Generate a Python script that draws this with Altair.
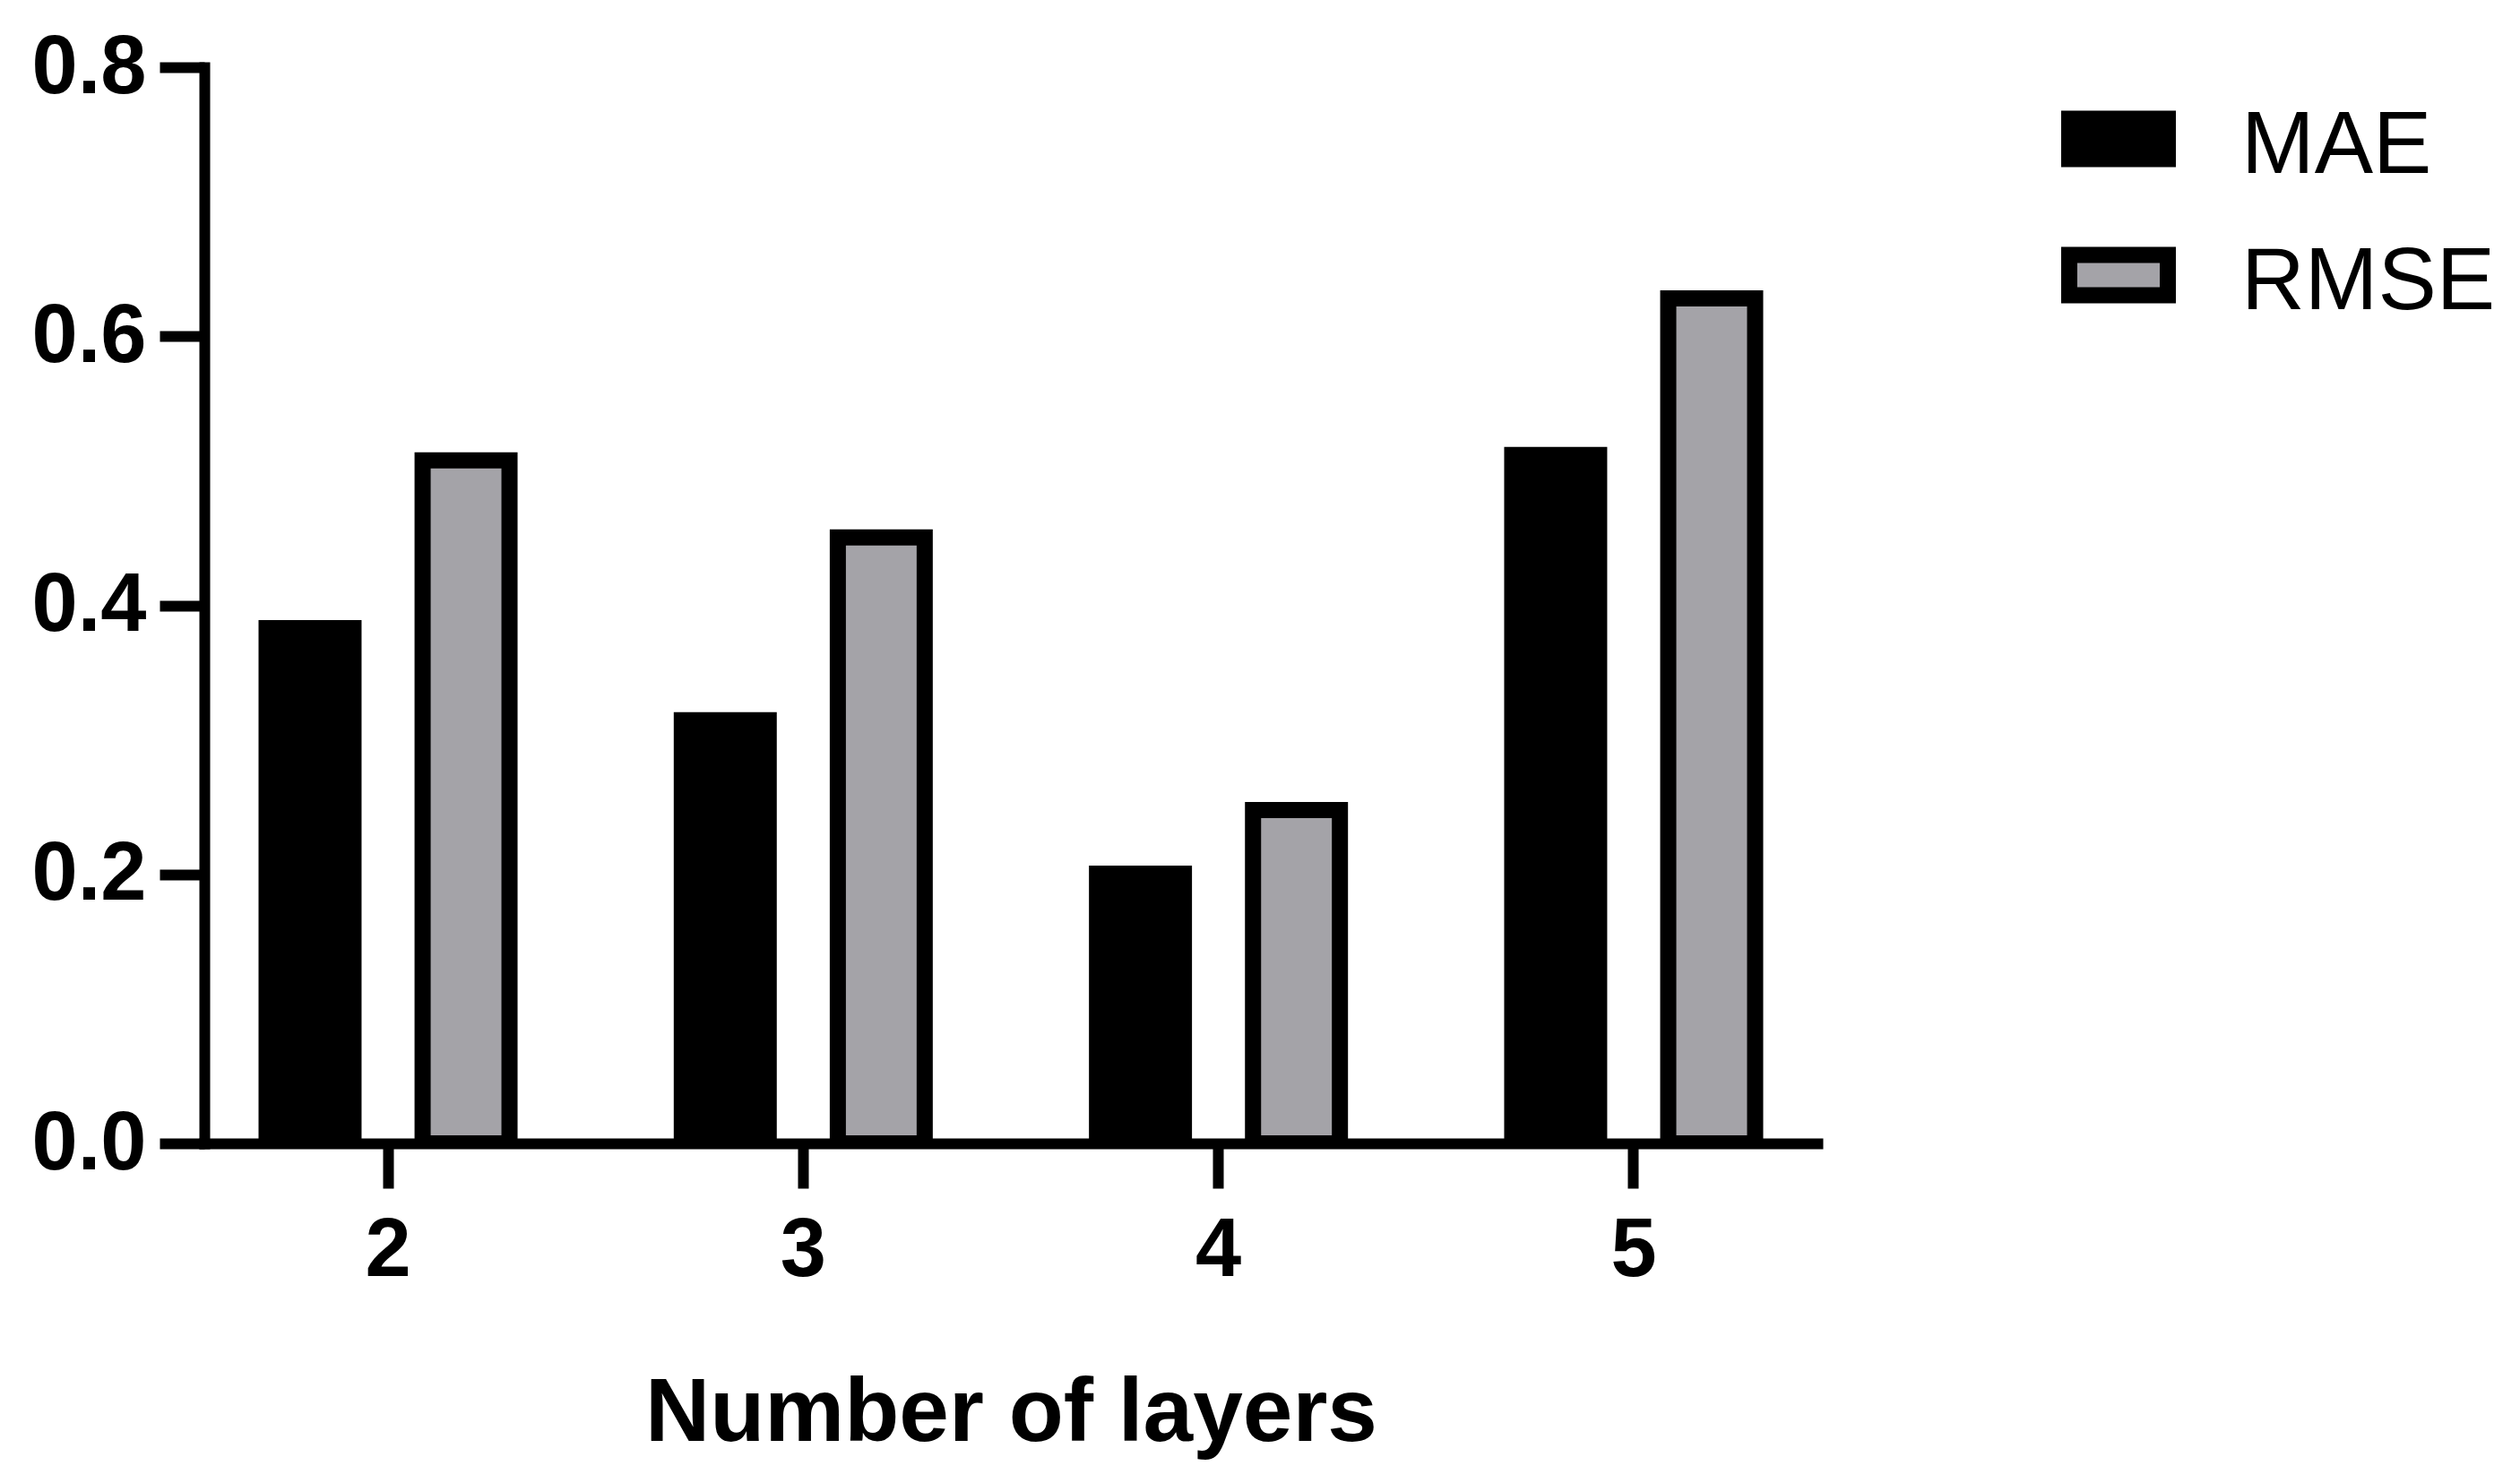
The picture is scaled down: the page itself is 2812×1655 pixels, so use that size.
import altair as alt
import pandas as pd

layers = ["2", "3", "4", "5"]
series = ["MAE", "RMSE"]
mae = [0.383, 0.3145, 0.2005, 0.5117]
rmse = [0.5077, 0.4504, 0.2478, 0.6282]
y_ticks = [0.0, 0.2, 0.4, 0.6, 0.8]
colors = ["#000000", "#a4a3a8"]

rows = []
for i, L in enumerate(layers):
    rows.append({"layers": L, "metric": "MAE", "value": mae[i]})
    rows.append({"layers": L, "metric": "RMSE", "value": rmse[i]})
df = pd.DataFrame(rows)

FONT = "Liberation Sans"

chart = alt.Chart(df).mark_bar(stroke="black", strokeWidth=18, clip=True).encode(
    x=alt.X(
        "layers:N",
        sort=layers,
        title="Number of layers",
        scale=alt.Scale(paddingInner=0.415, paddingOuter=0.15),
        axis=alt.Axis(
            labelAngle=0,
            labelFont=FONT,
            labelFontWeight="bold",
            labelFontSize=92,
            labelColor="black",
            labelPadding=24,
            tickSize=50,
            tickWidth=12,
            tickColor="black",
            domainWidth=12,
            domainColor="black",
            domainCap="square",
            titleFont=FONT,
            titleFontWeight="bold",
            titleFontSize=100,
            titleColor="black",
            titleY=331,
            titleBaseline="alphabetic",
            zindex=1,
        ),
    ),
    xOffset=alt.XOffset(
        "metric:N",
        sort=series,
        scale=alt.Scale(paddingInner=0.443, paddingOuter=0),
    ),
    y=alt.Y(
        "value:Q",
        title=None,
        scale=alt.Scale(domain=[0, 0.8], nice=False, zero=True),
        axis=alt.Axis(
            values=y_ticks,
            format=".1f",
            grid=False,
            labelFont=FONT,
            labelFontWeight="bold",
            labelFontSize=92,
            labelColor="black",
            labelPadding=15,
            tickSize=50,
            tickWidth=12,
            tickColor="black",
            domainWidth=12,
            domainColor="black",
            domainCap="square",
            zindex=1,
        ),
    ),
    color=alt.Color(
        "metric:N",
        scale=alt.Scale(domain=series, range=colors),
        legend=alt.Legend(
            title=None,
            orient="none",
            legendX=2072,
            legendY=25,
            padding=0,
            symbolType="M-1,-0.574H1V0.246H-1Z",
            symbolSize=12100,
            symbolStrokeWidth=18,
            symbolStrokeColor="black",
            symbolOpacity=1,
            labelFont=FONT,
            labelFontSize=98,
            labelColor="black",
            labelOffset=73,
            labelLimit=1000,
            rowPadding=34,
        ),
    ),
).properties(
    width=1800,
    height=1201,
    background="white",
    autosize=alt.AutoSizeParams(type="none"),
    padding={"left": 220, "top": 67, "right": 770, "bottom": 360},
).configure_view(
    stroke="transparent",
    strokeWidth=0,
)

chart.save("out.html", embed_options={"renderer": "svg", "actions": False})
